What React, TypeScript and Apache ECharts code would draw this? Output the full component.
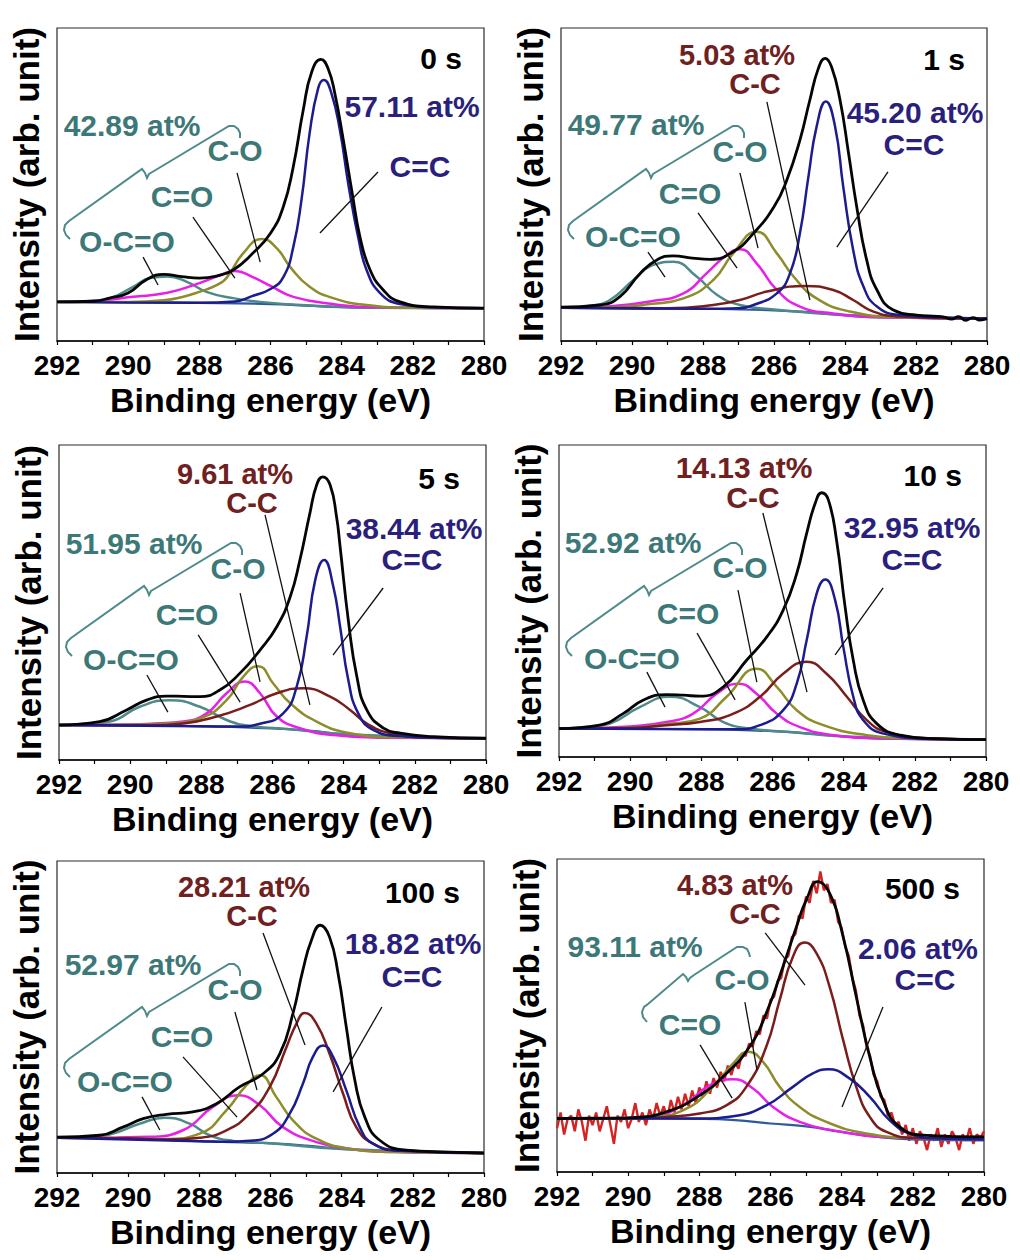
import React, { useEffect, useRef } from "react";
import * as echarts from "echarts";

type Pt = [number, number];

// ---------- fitted C 1s components, [binding energy (eV), intensity (a.u.)] ----------

// 0 s
const bg0: Pt[] = [[292, 12.5], [290, 12.4], [288, 12.2], [286, 11.8], [285, 11.3], [284, 10.8], [283, 10.6], [280, 10.5]];
const total0: Pt[] = [[292, 12.5], [291, 12.7], [290.5, 13.8], [290, 15.3], [289.5, 19.5], [289, 21.3], [288.5, 20.6], [288, 20.1], [287.5, 20.8], [287.05, 22.7], [286.5, 28], [286, 34.4], [285.64, 42.9], [285.36, 55.7], [285.08, 73.8], [284.84, 86], [284.58, 90], [284.38, 87], [284.19, 79], [283.95, 64], [283.7, 47], [283.48, 33], [283.2, 22.7], [282.83, 16.3], [282.36, 12.5], [281.42, 10.9], [280, 10.5]];
const sp2_0: Pt[] = [[292, 12.5], [288, 12.2], [287, 12.6], [286.5, 14.4], [286, 16.6], [285.64, 20.4], [285.36, 30], [285.13, 45], [284.9, 66.4], [284.66, 80.8], [284.5, 83.4], [284.3, 79.6], [284.05, 67.4], [283.8, 49.2], [283.52, 32.3], [283.3, 22.7], [282.92, 15.3], [282.36, 11.8], [281.5, 10.8], [280, 10.5]];
const co0: Pt[] = [[292, 12.5], [290, 12.5], [289, 13.0], [288.5, 14.0], [288, 15.7], [287.5, 17.9], [287.22, 20.4], [286.77, 28], [286.24, 32.6], [285.82, 29.6], [285.45, 23.7], [284.9, 17.3], [284.24, 13.7], [283.3, 11.5], [282, 10.6], [280, 10.5]];
const cdo0: Pt[] = [[292, 12.5], [291, 12.8], [289.86, 14.1], [288.9, 15.4], [288, 18.5], [287.42, 21], [287.0, 22.4], [286.5, 20.4], [286, 17.6], [285.36, 14.1], [284.24, 11.8], [283, 10.8], [280, 10.5]];
const ocdo0: Pt[] = [[292, 12.5], [291, 12.8], [290.5, 13.7], [289.86, 17.3], [289.39, 20.1], [288.9, 20.6], [288.35, 18.9], [287.8, 15.7], [287.05, 13.7], [286.3, 12.5], [285, 11.4], [283, 10.6], [280, 10.5]];

// 1 s
const bg1: Pt[] = [[292, 10.6], [290, 10.5], [288, 10.3], [286, 9.8], [285, 9.2], [284, 8.2], [283, 7.5], [280, 7.2]];
const total1: Pt[] = [[292, 10.8], [290.9, 11.5], [290.34, 14.2], [289.77, 21.6], [289.3, 25.9], [288.84, 27.2], [288.3, 26.5], [287.8, 26.1], [287.15, 28.5], [286.58, 34.4], [286, 42.9], [285.64, 51.4], [285.27, 64.2], [284.99, 77], [284.75, 87.1], [284.56, 90.3], [284.38, 87.6], [284.14, 77], [283.9, 60], [283.67, 42.9], [283.39, 25.9], [283.1, 16.3], [282.64, 9.9], [281.98, 8.3], [281.4, 7.9], [281.2, 7.6], [281.0, 7.0], [280.8, 7.8], [280.6, 6.6], [280.4, 7.5], [280.2, 6.7], [280, 7.1]];
const sp2_1: Pt[] = [[292, 10.6], [288, 10.3], [287, 10.5], [286.58, 11.5], [285.92, 15.2], [285.55, 21.6], [285.27, 34.4], [285.03, 52.5], [284.8, 68.5], [284.54, 76.5], [284.28, 68.5], [284.05, 49.3], [283.77, 29.1], [283.48, 17.4], [283.1, 11], [282.45, 8.3], [281, 7.4], [280, 7.2]];
const sp3_1: Pt[] = [[292, 10.6], [289, 10.5], [287.71, 11.5], [286.96, 13.1], [286.2, 15.8], [285.13, 17.6], [284.33, 16.3], [283.77, 13.1], [283.2, 9.4], [282.45, 7.8], [281, 7.3], [280, 7.2]];
const co1: Pt[] = [[292, 10.6], [290.5, 10.8], [289.5, 11.8], [288.55, 13.6], [287.71, 19.5], [287.15, 28], [286.49, 34.9], [285.92, 28], [285.45, 20.6], [284.8, 13.6], [283.86, 9.4], [282.5, 7.6], [280, 7.2]];
const cdo1: Pt[] = [[292, 10.6], [290.5, 11.2], [289.5, 12.6], [288.55, 15.2], [287.9, 21.6], [287.33, 27.5], [286.96, 29.3], [286.49, 24.8], [285.92, 16.3], [285.27, 11], [284.33, 8.8], [283, 7.6], [280, 7.2]];
const ocdo1: Pt[] = [[292, 10.6], [291.2, 11.2], [290.62, 13.1], [289.96, 19.5], [289.4, 24.3], [288.84, 25.3], [288.18, 20.6], [287.6, 14.7], [286.96, 11.5], [286, 10.1], [284, 8.3], [280, 7.2]];

// 5 s
const bg5: Pt[] = [[292, 11.1], [290, 11.0], [288, 10.7], [286, 10.0], [285, 9.3], [284, 8.2], [283, 7.3], [280, 6.9]];
const total5: Pt[] = [[292, 11.1], [290.86, 12.2], [290.1, 15.9], [289.54, 19], [288.98, 20.3], [288.5, 20.2], [288.04, 20.1], [287.48, 22.2], [286.92, 27.5], [286.35, 34.9], [285.88, 42.3], [285.5, 51.9], [285.23, 63.5], [284.95, 78.3], [284.76, 87.3], [284.59, 89.9], [284.38, 87.3], [284.2, 77.2], [284.1, 67.7], [283.87, 44.4], [283.63, 26.5], [283.35, 15.9], [282.88, 10.1], [282.41, 8.5], [281.47, 7.4], [280, 6.9]];
const sp2_5: Pt[] = [[292, 11.1], [288, 10.7], [287, 10.6], [286.35, 11.5], [285.7, 14.8], [285.32, 23.3], [285.04, 39.2], [284.8, 57.1], [284.55, 63.5], [284.29, 55], [284.1, 42.3], [283.87, 25.4], [283.59, 14.8], [283.16, 9.5], [282.41, 7.6], [281, 7.0], [280, 6.9]];
const sp3_5: Pt[] = [[292, 11.1], [289.5, 11.0], [288.51, 11.6], [287.57, 13.8], [286.63, 17.5], [285.88, 21.2], [285.13, 22.8], [284.38, 20.1], [283.82, 15.9], [283.35, 11.6], [282.69, 8.5], [281.5, 7.1], [280, 6.9]];
const co5: Pt[] = [[292, 11.1], [290, 11.2], [288.98, 11.6], [288.04, 13.2], [287.29, 19], [286.82, 26.5], [286.4, 29.8], [285.98, 24.3], [285.5, 18], [284.76, 12.2], [283.82, 8.5], [282.5, 7.2], [280, 6.9]];
const cdo5: Pt[] = [[292, 11.1], [290, 11.3], [289.3, 11.6], [288.51, 12.2], [287.85, 14.8], [287.29, 21.2], [286.78, 24.9], [286.35, 21.2], [285.88, 13.8], [285.23, 10.1], [284.29, 7.9], [283, 7.1], [280, 6.9]];
const ocdo5: Pt[] = [[292, 11.1], [291.2, 11.5], [290.57, 12.2], [289.73, 16.9], [288.89, 19], [288.04, 16.9], [287.29, 12.7], [286.63, 10.8], [285.5, 9.8], [284, 8.2], [280, 6.9]];

// 10 s
const bg10: Pt[] = [[292, 9.1], [290, 9.0], [288, 8.9], [286, 8.3], [285, 7.6], [284, 6.6], [283, 5.9], [280, 5.6]];
const total10: Pt[] = [[292, 9.1], [290.86, 10.2], [290.2, 13.9], [289.64, 18.2], [288.98, 20], [288.5, 19.8], [288.04, 19.5], [287.38, 22.5], [286.73, 31], [286.16, 38.5], [285.7, 47.1], [285.32, 58.8], [285.04, 71.7], [284.8, 81.3], [284.62, 84.7], [284.43, 82.4], [284.2, 69.5], [283.96, 48.1], [283.73, 31], [283.45, 18.2], [283.07, 10.7], [282.41, 7], [281.47, 5.9], [280, 5.6]];
const sp2_10: Pt[] = [[292, 9.1], [288, 8.9], [287, 8.9], [286.35, 10.2], [285.7, 15], [285.32, 23.5], [285.04, 37.4], [284.76, 52.4], [284.52, 56.9], [284.24, 50.3], [284.01, 35.3], [283.73, 19.3], [283.45, 11.8], [282.88, 7.5], [281.5, 5.8], [280, 5.6]];
const sp3_10: Pt[] = [[292, 9.1], [290, 9.3], [288.98, 10.2], [288.04, 11.2], [287.1, 13.9], [286.35, 19.3], [285.7, 26.7], [285.04, 30.5], [284.48, 26.7], [283.91, 19.3], [283.35, 11.8], [282.79, 8], [281.5, 6], [280, 5.6]];
const co10: Pt[] = [[292, 9.1], [290, 9.4], [288.98, 10.5], [288.04, 12.3], [287.29, 19.3], [286.45, 28.3], [285.88, 22.5], [285.32, 15], [284.57, 10.2], [283.35, 7], [282, 5.9], [280, 5.6]];
const cdo10: Pt[] = [[292, 9.1], [290, 9.8], [288.98, 11.2], [288.23, 13.9], [287.57, 20.3], [286.96, 23.5], [286.45, 20.3], [285.88, 13.9], [285.23, 9.6], [284.29, 7], [283, 6], [280, 5.6]];
const ocdo10: Pt[] = [[292, 9.1], [291.2, 9.6], [290.57, 10.7], [289.73, 16], [288.89, 19.3], [288.04, 16], [287.38, 11.2], [286.63, 9.1], [285.5, 8.0], [284, 6.6], [280, 5.6]];

// 100 s
const bg100: Pt[] = [[292, 11.3], [290, 11.0], [288, 10.2], [286, 9.5], [285, 8.8], [284, 7.7], [283, 7.0], [282, 6.6], [280, 6.4]];
const total100: Pt[] = [[292, 11.5], [290.8, 12.1], [290.15, 14.7], [289.58, 17.4], [288.93, 18.8], [288.18, 19.6], [287.52, 22.2], [286.87, 27.6], [286.21, 31.8], [285.74, 38.2], [285.37, 51.1], [285.09, 65], [284.85, 74.6], [284.6, 79.4], [284.34, 75.6], [284.1, 63.9], [283.87, 46.8], [283.63, 29.7], [283.35, 17.9], [282.93, 10.5], [282.18, 7.3], [280.96, 6.7], [280, 6.4]];
const sp2_100: Pt[] = [[292, 11.3], [288, 10.2], [287.2, 10.0], [286.59, 10.3], [285.93, 12.6], [285.46, 19], [285.09, 28.6], [284.81, 37.2], [284.52, 40.9], [284.24, 37.2], [283.87, 26.5], [283.49, 14.7], [283.12, 9.4], [282.37, 7.1], [280, 6.4]];
const sp3_100: Pt[] = [[292, 11.3], [290, 11.1], [288.93, 10.7], [287.99, 11.3], [287.24, 13.7], [286.59, 19], [286.02, 27.6], [285.55, 40.4], [285.27, 47.9], [285.04, 51.3], [284.71, 47.9], [284.34, 38.2], [283.96, 25.4], [283.59, 14.7], [283.12, 9.4], [282.37, 7.3], [280, 6.4]];
const co100: Pt[] = [[292, 11.3], [290, 11.1], [288.93, 10.9], [287.99, 12.6], [287.24, 20.1], [286.68, 28.1], [286.3, 31.3], [285.84, 24.4], [285.37, 16.9], [284.71, 11], [283.78, 7.8], [282.5, 6.7], [280, 6.4]];
const cdo100: Pt[] = [[292, 11.3], [290.3, 11.4], [289.4, 11.6], [288.46, 13.7], [287.62, 21.2], [286.91, 24.9], [286.3, 21.7], [285.65, 14.7], [284.71, 9.9], [283.78, 7.8], [282.5, 6.7], [280, 6.4]];
const ocdo100: Pt[] = [[292, 11.3], [291.2, 11.4], [290.52, 12.3], [289.68, 15.8], [288.97, 17.7], [288.27, 15.8], [287.71, 12.1], [287.05, 10.3], [286, 9.5], [284, 7.7], [280, 6.4]];

// 500 s
const bg500: Pt[] = [[292, 17.1], [290, 17.1], [288, 17.0], [287, 16.6], [286, 15.5], [285, 14.6], [284, 12.8], [283, 11.2], [282, 10.4], [280, 10.1]];
const total500: Pt[] = [[292, 17.1], [290.5, 17.2], [289.86, 17.4], [288.93, 19.2], [287.99, 24.5], [287.24, 31.5], [286.59, 40], [286.12, 50.7], [285.65, 65.6], [285.27, 78.4], [284.99, 87], [284.67, 92.8], [284.34, 89.1], [283.96, 75.2], [283.59, 56], [283.21, 36.8], [282.84, 22.9], [282.37, 14.4], [281.62, 11.7], [280, 11.2]];
const sp2_500: Pt[] = [[292, 17.1], [289, 17.1], [287.99, 17.1], [287.05, 17.8], [286.12, 21.3], [285.37, 27.2], [284.81, 31.5], [284.38, 32.8], [283.78, 29.9], [283.21, 24], [282.65, 16.5], [282.09, 12.3], [281.25, 10.7], [280, 10.4]];
const sp3_500: Pt[] = [[292, 17.1], [290, 17.1], [288.93, 17.6], [287.99, 18.7], [287.24, 21.3], [286.68, 27.2], [286.12, 40], [285.74, 55], [285.37, 68.8], [285.04, 73.3], [284.71, 69.9], [284.34, 59.2], [283.96, 42.2], [283.59, 27.2], [283.21, 17.6], [282.74, 12.8], [281.9, 10.9], [280, 10.7]];
const co500: Pt[] = [[292, 17.1], [290.5, 17.2], [289.4, 17.6], [288.46, 19.7], [287.62, 27.2], [287.05, 34.7], [286.63, 38.4], [286.21, 35.2], [285.74, 27.2], [285.18, 20.8], [284.43, 16], [283.31, 12.3], [281.9, 10.9], [280, 10.5]];
const cdo500: Pt[] = [[292, 17.1], [290.3, 17.2], [289.4, 17.6], [288.46, 21.3], [287.71, 27.7], [287.05, 29.6], [286.49, 26.7], [285.93, 20.8], [285.18, 16], [284.24, 13.3], [282.84, 11.2], [280, 10.5]];
// measured counts at 500 s, 292.0 → 280.0 eV in 0.1 eV steps
const raw500Start = 292;
const raw500Step = 0.1;
const raw500: number[] = [
  14, 19, 12, 17, 18, 13, 20, 16, 10, 18,
  15, 19, 13, 17, 21, 15, 9, 18, 16, 20,
  14, 17, 22, 16, 19, 15, 20, 17, 22, 18,
  21, 17, 23, 19, 24, 20, 25, 21, 26, 22,
  27, 24, 29, 25, 30, 27, 32, 29, 34, 31,
  35, 33, 38, 37, 41, 40, 45, 44, 50, 49,
  55, 56, 61, 62, 68, 69, 75, 76, 82, 81,
  88, 86, 93, 89, 96, 90, 92, 86, 87, 80,
  78, 72, 69, 62, 58, 50, 47, 40, 37, 31,
  29, 24, 23, 18, 19, 15, 16, 12, 15, 10,
  14, 9, 13, 11, 7, 12, 10, 14, 8, 12,
  9, 13, 11, 7, 12, 10, 14, 9, 12, 11,
  13,
];

// ---------- labels ----------
const times = ["0 s", "1 s", "5 s", "10 s", "100 s", "500 s"];
const oxygenPct = ["42.89", "49.77", "51.95", "52.92", "52.97", "93.11"];
const sp2Pct = ["57.11", "45.20", "38.44", "32.95", "18.82", "2.06"];
const sp3Pct = [null, "5.03", "9.61", "14.13", "28.21", "4.83"];

// ---------- styling ----------
const FONT = '"Liberation Sans", Arial, Helvetica, sans-serif';
const LABEL_SIZE = 30;
const C_TOTAL = "#050505";
const C_SP2 = "#1c1c8e";
const C_SP2_TEXT = "#2a1f7c";
const C_SP3 = "#7a1d1d";
const C_SP3_TEXT = "#6f2020";
const C_CO = "#8d8d2b";
const C_CDO = "#e81fe8";
const C_OCDO = "#4e8a8a";
const C_OXY_TEXT = "#3c7878";
const C_BG = "#30589c";
const C_RAW = "#d42323";

const GRIDS = [
  { left: 57, top: 28, width: 427, height: 313 },
  { left: 561, top: 28, width: 426, height: 313 },
  { left: 59, top: 445, width: 427, height: 315 },
  { left: 559, top: 445, width: 427, height: 312 },
  { left: 57, top: 861, width: 427, height: 312 },
  { left: 557, top: 859, width: 427, height: 313 },
];

// label anchors [cx, cy] in page pixels
type Anchor = [number, number];
interface Sp3Block { cx: number; cy: number; indent: number; size: number; lineHeight: number }
interface Layout {
  time: Anchor; // right edge, middle
  oxy: Anchor; co: Anchor; cdo: Anchor; ocdo?: Anchor;
  sp2: Anchor; sp2Name: Anchor;
  sp3?: Sp3Block;
  brace: Pt[];
}

// curly brace grouping the oxygen-bearing components
const braceShape: Pt[] = [
  [13, 211], [9, 207], [7, 202], [8, 197], [12, 193],
  [85, 141], [88, 145], [90, 150], [92, 146], [97, 143],
  [172, 98], [177, 98], [181, 101], [183, 105], [183, 110],
];
const shiftBrace = (dx: number, dy: number): Pt[] => braceShape.map(([x, y]) => [x + dx, y + dy]);

const layouts: Layout[] = [
  { time: [462, 58], oxy: [132, 125], co: [235, 150], cdo: [182, 196], ocdo: [127, 241], sp2: [412, 106], sp2Name: [420, 166], brace: shiftBrace(57, 28) },
  { time: [965, 59], oxy: [636, 124], co: [740, 151], cdo: [690, 193], ocdo: [633, 236], sp2: [915, 112], sp2Name: [914, 144], sp3: { cx: 737, cy: 69, indent: 36, size: 29, lineHeight: 29 }, brace: shiftBrace(561, 28) },
  { time: [460, 478], oxy: [134, 543], co: [238, 568], cdo: [187, 614], ocdo: [131, 659], sp2: [414, 528], sp2Name: [412, 559], sp3: { cx: 235, cy: 488, indent: 34, size: 29, lineHeight: 29 }, brace: shiftBrace(59, 445) },
  { time: [962, 475], oxy: [633, 542], co: [740, 567], cdo: [688, 613], ocdo: [632, 658], sp2: [912, 527], sp2Name: [912, 559], sp3: { cx: 744, cy: 482, indent: 18, size: 30, lineHeight: 30 }, brace: shiftBrace(559, 445) },
  { time: [460, 892], oxy: [133, 964], co: [235, 989], cdo: [182, 1036], ocdo: [125, 1081], sp2: [413, 943], sp2Name: [412, 976], sp3: { cx: 244, cy: 901, indent: 16, size: 29, lineHeight: 29 }, brace: shiftBrace(57, 866) },
  { time: [960, 888], oxy: [635, 946], co: [742, 979], cdo: [690, 1024], sp2: [918, 948], sp2Name: [925, 979], sp3: { cx: 735, cy: 899, indent: 40, size: 29, lineHeight: 29 }, brace: [[647, 1022], [643, 1017], [642, 1012], [644, 1007], [648, 1004], [683, 974], [686, 977], [688, 981], [690, 978], [694, 975], [737, 947], [743, 947], [747, 949], [749, 953], [750, 957]] },
];

// pointer arrows, [tail eV, tail I, head eV, head I]
const arrows: number[][][] = [
  [[284.61, 34.5, 282.98, 54.0], [286.29, 25.2, 286.94, 53.7], [287.0, 20.1, 288.18, 39.6], [289.16, 17.9, 289.58, 26.8]],
  [[284.99, 13.1, 286.2, 76.4], [284.23, 30, 282.79, 54], [286.45, 29.7, 286.96, 53.7], [287.04, 23.3, 288.14, 40.9], [289.07, 20.4, 289.55, 28.4]],
  [[284.95, 17.5, 286.21, 77.8], [284.3, 33.3, 282.89, 54.6], [286.35, 24.8, 286.91, 53], [286.91, 18.4, 288.09, 39.7], [288.94, 15.2, 289.53, 27]],
  [[285.03, 20.8, 286.27, 78.2], [284.24, 32.7, 282.89, 54.2], [286.44, 24, 286.97, 53.5], [287.05, 18.3, 288.12, 39.7], [289.02, 16, 289.53, 27.2]],
  [[285.03, 41, 286.21, 76.9], [284.24, 26, 282.87, 53.2], [286.38, 26.6, 287.0, 51.6], [286.94, 17.9, 288.46, 37.2], [289.11, 13.8, 289.61, 24.4]],
  [[285.03, 59.7, 286.15, 76.4], [283.99, 20.8, 282.84, 52.7], [286.38, 32.6, 286.72, 54.3], [287.08, 23.6, 287.98, 40.6]],
];

interface PanelData {
  bg: Pt[]; total: Pt[]; sp2: Pt[]; sp3?: Pt[]; co: Pt[]; cdo: Pt[]; ocdo?: Pt[]; raw?: Pt[];
}

const raw500Pts: Pt[] = raw500.map((v, i) => [Number((raw500Start - i * raw500Step).toFixed(1)), v]);

const panels: PanelData[] = [
  { bg: bg0, total: total0, sp2: sp2_0, co: co0, cdo: cdo0, ocdo: ocdo0 },
  { bg: bg1, total: total1, sp2: sp2_1, sp3: sp3_1, co: co1, cdo: cdo1, ocdo: ocdo1 },
  { bg: bg5, total: total5, sp2: sp2_5, sp3: sp3_5, co: co5, cdo: cdo5, ocdo: ocdo5 },
  { bg: bg10, total: total10, sp2: sp2_10, sp3: sp3_10, co: co10, cdo: cdo10, ocdo: ocdo10 },
  { bg: bg100, total: total100, sp2: sp2_100, sp3: sp3_100, co: co100, cdo: cdo100, ocdo: ocdo100 },
  { bg: bg500, total: total500, sp2: sp2_500, sp3: sp3_500, co: co500, cdo: cdo500, raw: raw500Pts },
];

const fontOf = (size: number) => `bold ${size}px ${FONT}`;

function textEl(text: string, at: Anchor, fill: string, size: number, align: "center" | "right" | "left" = "center") {
  return {
    type: "text",
    x: at[0],
    y: at[1],
    silent: true,
    z: 100,
    style: {
      text,
      fill,
      font: fontOf(size),
      align,
      verticalAlign: "middle",
      textAlign: align,
      textVerticalAlign: "middle",
    },
  };
}

// two-line "xx.xx at%" / "C-C" label, second line nudged right
function sp3El(pct: string, b: Sp3Block) {
  const part = {
    fill: C_SP3_TEXT,
    font: fontOf(b.size),
    fontSize: b.size,
    fontWeight: "bold",
    fontFamily: FONT,
    lineHeight: b.lineHeight,
  };
  return {
    type: "text",
    x: b.cx,
    y: b.cy,
    silent: true,
    z: 100,
    style: {
      text: `{p|${pct} at%}\n{n|C-C}`,
      fill: C_SP3_TEXT,
      font: fontOf(b.size),
      align: "center",
      verticalAlign: "middle",
      textAlign: "center",
      textVerticalAlign: "middle",
      rich: {
        p: { ...part },
        n: { ...part, padding: [0, 0, 0, b.indent] },
      },
    },
  };
}

function buildOption() {
  const grid: any[] = [];
  const xAxis: any[] = [];
  const yAxis: any[] = [];
  const series: any[] = [];
  const graphic: any[] = [];

  panels.forEach((p, i) => {
    const g = GRIDS[i];
    grid.push({ ...g, show: true, borderColor: "#2a2a2a", borderWidth: 1.2, backgroundColor: "transparent" });
    xAxis.push({
      gridIndex: i,
      type: "value",
      min: 280,
      max: 292,
      interval: 2,
      inverse: true,
      name: "Binding energy (eV)",
      nameLocation: "middle",
      nameGap: 42,
      nameTextStyle: { fontSize: 34, fontWeight: "bold", color: "#000", fontFamily: FONT },
      axisLine: { show: true, lineStyle: { color: "#000", width: 1.5 } },
      axisTick: { show: true, inside: false, length: 4, lineStyle: { color: "#000", width: 1.2 } },
      minorTick: { show: true, splitNumber: 2, length: 4, lineStyle: { color: "#000", width: 1.2 } },
      axisLabel: { fontSize: 28, fontWeight: "bold", color: "#000", fontFamily: FONT, margin: 10 },
      splitLine: { show: false },
      minorSplitLine: { show: false },
    });
    yAxis.push({
      gridIndex: i,
      type: "value",
      min: 0,
      max: 100,
      name: "Intensity (arb. unit)",
      nameLocation: "middle",
      nameGap: 13,
      nameTextStyle: { fontSize: 35, fontWeight: "bold", color: "#000", fontFamily: FONT },
      axisLine: { show: false },
      axisTick: { show: false },
      axisLabel: { show: false },
      splitLine: { show: false },
    });

    const line = (data: Pt[], color: string, width: number) => ({
      type: "line",
      xAxisIndex: i,
      yAxisIndex: i,
      data,
      smooth: 0.5,
      symbol: "none",
      silent: true,
      lineStyle: { color, width },
      z: 2,
    });

    if (p.raw) series.push({ ...line(p.raw, C_RAW, 2.4), smooth: false });
    series.push(line(p.bg, C_BG, 2.2));
    if (p.ocdo) series.push(line(p.ocdo, C_OCDO, 2.5));
    series.push(line(p.cdo, C_CDO, 2.5));
    series.push(line(p.co, C_CO, 2.5));
    if (p.sp3) series.push(line(p.sp3, C_SP3, 2.5));
    series.push(line(p.sp2, C_SP2, 2.5));
    series.push({
      ...line(p.total, C_TOTAL, 2.8),
      markLine: {
        silent: true,
        symbol: ["none", "arrow"],
        symbolSize: [0, 12],
        label: { show: false },
        lineStyle: { color: "#111", width: 1.3, type: "solid" },
        data: arrows[i].map((a) => [{ coord: [a[0], a[1]] }, { coord: [a[2], a[3]] }]),
      },
    });

    const L = layouts[i];
    graphic.push({
      type: "polyline",
      silent: true,
      z: 100,
      shape: { points: L.brace },
      style: { stroke: C_OCDO, lineWidth: 2, fill: "none" },
    });
    graphic.push(textEl(times[i], L.time, "#000", 30, "right"));
    graphic.push(textEl(`${oxygenPct[i]} at%`, L.oxy, C_OXY_TEXT, LABEL_SIZE));
    graphic.push(textEl("C-O", L.co, C_OXY_TEXT, LABEL_SIZE));
    graphic.push(textEl("C=O", L.cdo, C_OXY_TEXT, LABEL_SIZE));
    if (L.ocdo) graphic.push(textEl("O-C=O", L.ocdo, C_OXY_TEXT, LABEL_SIZE));
    graphic.push(textEl(`${sp2Pct[i]} at%`, L.sp2, C_SP2_TEXT, LABEL_SIZE));
    graphic.push(textEl("C=C", L.sp2Name, C_SP2_TEXT, LABEL_SIZE));
    const s3 = sp3Pct[i];
    if (s3 && L.sp3) graphic.push(sp3El(s3, L.sp3));
  });

  return {
    animation: false,
    backgroundColor: "#fff",
    grid,
    xAxis,
    yAxis,
    series,
    graphic,
  };
}

export default function App() {
  const ref = useRef<HTMLDivElement>(null);
  useEffect(() => {
    if (!ref.current) return;
    const chart = echarts.init(ref.current, undefined, { renderer: "svg" });
    chart.setOption(buildOption() as any);
    return () => chart.dispose();
  }, []);
  return (
    <div
      ref={ref}
      style={{ position: "absolute", left: 0, top: 0, width: 1020, height: 1260, background: "#fff" }}
    />
  );
}
